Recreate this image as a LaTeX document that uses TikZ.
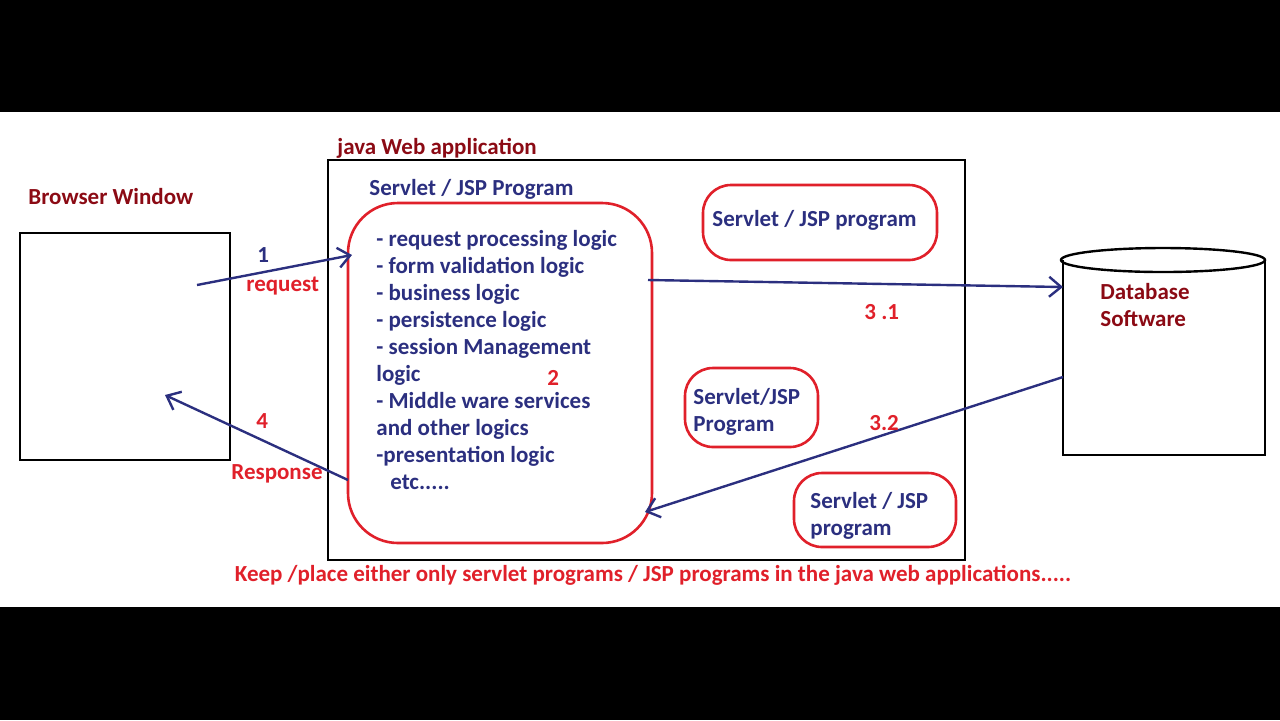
\documentclass[tikz,border=0pt]{standalone}
\usepackage{fontspec}
\setmainfont{Carlito}
\usetikzlibrary{arrows.meta}
\definecolor{nav}{HTML}{2B2F7F}
\definecolor{dred}{HTML}{8B0A14}
\definecolor{rd}{HTML}{E0202A}
\tikzset{
 t/.style={font=\bfseries\fontsize{11.5}{13.5}\selectfont, inner sep=0pt, anchor=west},
 rbox/.style={draw=rd, line width=1.3pt, rounded corners=14pt},
 arr/.style={draw=nav, line width=1.2pt, -{Straight Barb[length=6pt,width=10pt]}}
}
\begin{document}
\begin{tikzpicture}[x=0.5pt,y=-0.5pt]
\useasboundingbox (0,0) rectangle (1280,720);
\fill[black] (0,0) rectangle (1280,112);
\fill[black] (0,607) rectangle (1280,720);
\node[t,text=dred] (bw) at (28,197) {Browser Window};
\draw[line width=1pt] (20,233) rectangle (230,460);
\coordinate (bwr) at (197,285);
\coordinate (bwl) at (165,395);
\node[t,text=dred] (jwa) at (337,148) {java Web application};
\draw[line width=1.2pt] (328,160) rectangle (965,560);
\node[t,text=nav] (sjp) at (369,189) {Servlet / JSP Program};
\draw[rbox, rounded corners=25pt] (348,203) rectangle (652,543);
\node[t,text=nav,align=left,anchor=north west] (list) at (376,230) {- request processing logic\\- form validation logic\\- business logic\\- persistence logic\\- session Management\\logic\\- Middle ware services\\and other logics\\-presentation logic\\\hspace*{7pt}etc.....};
\node[t,text=rd] (n2) at (547,378) {2};
\draw[rbox] (703,185) rectangle (937,260);
\node[t,text=nav] (s1) at (712,220) {Servlet / JSP program};
\draw[rbox] (685,368) rectangle (818,447);
\node[t,text=nav,align=left] (s2) at (693,412) {Servlet/JSP\\Program};
\draw[rbox] (794,473) rectangle (956,547);
\node[t,text=nav,align=left] (s3) at (810,516) {Servlet / JSP\\program};
% cylinder
\draw[line width=1.2pt] (1063,260) -- (1063,455) -- (1265,455) -- (1265,260);
\draw[line width=1.2pt] (1163,260) ellipse [x radius=102, y radius=12];
\node[t,text=dred,align=left] (db) at (1100,305) {Database\\Software};
\coordinate (p1) at (352,255);
\coordinate (p2) at (648,280);
\coordinate (p3) at (1063,287);
\coordinate (p4) at (1063,377);
\coordinate (p5) at (645,512);
\coordinate (p6) at (348,480);
\draw[arr] (bwr) -- (p1);
\draw[arr] (p2) -- (p3);
\draw[arr] (p4) -- (p5);
\draw[arr] (p6) -- (bwl);
\node[t,text=nav] (l1) at (257,255) {1};
\node[t,text=rd] (lr) at (246,286) {request};
\node[t,text=rd] (l31) at (864,312) {3 .1};
\node[t,text=rd] (l32) at (869,423) {3.2};
\node[t,text=rd] (l4) at (256,421) {4};
\node[t,text=rd] (lresp) at (231,474) {Response};
\node[t,text=rd,anchor=center] (foot) at (653,575) {Keep /place either only servlet programs / JSP programs in the java web applications.....};
\end{tikzpicture}
\end{document}
